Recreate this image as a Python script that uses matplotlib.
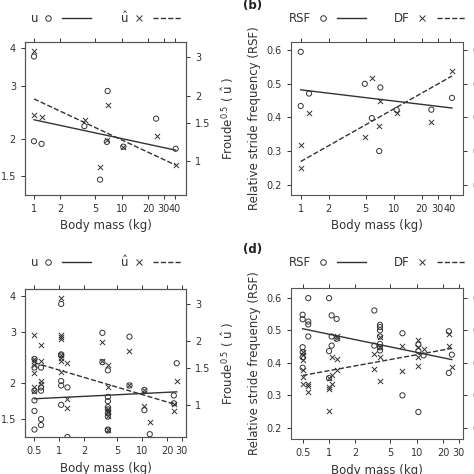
import matplotlib
matplotlib.use("Agg")
import matplotlib.pyplot as plt
import numpy as np
from matplotlib.ticker import FixedLocator, NullLocator, FixedFormatter
from matplotlib.lines import Line2D

# Panel a
a_u_x = [1, 1, 1.22, 3.75, 5.66, 6.75, 6.9, 10.4, 24.6, 41]
a_u_y = [3.75, 1.96, 1.92, 2.2, 1.46, 1.95, 2.88, 1.88, 2.33, 1.85]
a_h_x = [1, 1, 1.22, 3.8, 5.66, 6.9, 6.75, 10.4, 25, 41]
a_h_y = [3.22, 1.63, 1.59, 1.54, 0.935, 1.81, 1.25, 1.16, 1.30, 0.96]
a_fit_u = (2.31, -0.0627)    # a*M^b
a_fit_h = (1.93, -0.189)

# Panel b
b_rsf_x = [1, 1, 1.23, 4.9, 5.83, 7.2, 7.0, 10.8, 25.5, 42.5]
b_rsf_y = [0.595, 0.434, 0.471, 0.50, 0.398, 0.489, 0.30, 0.422, 0.423, 0.458]
b_df_x = [1, 1, 1.23, 4.9, 5.83, 7.2, 7.0, 10.8, 25.5, 42.5]
b_df_y = [0.317, 0.250, 0.412, 0.342, 0.516, 0.450, 0.375, 0.414, 0.385, 0.539]
b_fit_rsf = (0.482, -0.0332)  # a + b*log10(M)
b_fit_df = (0.269, 0.156)

# Panel c
c_u_x = [0.5]*6 + [0.6]*5 + [1.05]*6 + [1.25]*2 + [3.3]*2 + [3.84]*9 + [7.0]*2 + [10.6]*2 + [12.3] + [24]*2 + [26]
c_u_y = [2.42, 2.26, 1.88, 1.74, 1.60, 1.38,
         2.26, 1.93, 1.88, 1.50, 1.43,
         3.75, 2.51, 2.49, 1.96, 2.03, 1.68,
         1.93, 1.30,
         2.98, 2.36,
         2.21, 1.79, 1.73, 1.62, 1.57, 1.53, 1.38, 1.37, 1.65,
         2.89, 1.96,
         1.89, 1.61,
         1.33,
         1.81, 1.70,
         2.34]
c_h_x = [0.5]*7 + [0.6]*4 + [1.05]*8 + [1.25]*3 + [3.3]*2 + [3.84]*7 + [7.0]*2 + [10.6]*2 + [12.3] + [24]*2 + [26]
c_h_y = [2.13, 1.54, 1.42, 1.22, 1.16, 1.65, 1.62,
         1.93, 1.61, 1.29, 1.25,
         3.20, 2.15, 2.10, 2.05, 1.73, 1.62, 1.43, 1.67,
         1.58, 1.07, 0.97,
         1.98, 1.61,
         1.54, 1.21, 0.96, 0.94, 0.92, 0.89, 0.76,
         1.80, 1.24,
         1.17, 0.99,
         0.83,
         1.01, 0.94,
         1.30]
c_fit_u = (1.78, 0.014)
c_fit_h = (1.46, -0.116)

# Panel d
d_rsf_x = [0.5]*6 + [0.58]*4 + [1.0]*3 + [1.07]*3 + [1.22]*2 + [3.28]*2 + [3.8]*7 + [6.85]*2 + [10.4]*3 + [11.9] + [23.1]*2 + [25]
d_rsf_y = [0.548, 0.534, 0.448, 0.433, 0.417, 0.385,
           0.599, 0.527, 0.518, 0.481,
           0.599, 0.436, 0.353,
           0.546, 0.481, 0.453,
           0.535, 0.474,
           0.561, 0.453,
           0.517, 0.510, 0.500, 0.481, 0.458, 0.448, 0.438,
           0.491, 0.300,
           0.456, 0.436, 0.249,
           0.423,
           0.497, 0.369,
           0.425]
d_df_x = [0.5]*6 + [0.58]*3 + [1.0]*4 + [1.07]*3 + [1.22]*4 + [3.28]*2 + [3.8]*4 + [6.85]*2 + [10.4]*4 + [11.9] + [23.1]*2 + [25]
d_df_y = [0.433, 0.425, 0.409, 0.379, 0.356, 0.335,
          0.335, 0.330, 0.310,
          0.354, 0.325, 0.318, 0.251,
          0.417, 0.363, 0.335,
          0.481, 0.476, 0.412, 0.378,
          0.428, 0.381,
          0.479, 0.448, 0.419, 0.343,
          0.451, 0.376,
          0.471, 0.448, 0.417, 0.389,
          0.444,
          0.489, 0.453,
          0.387]
d_fit_rsf = (0.488, -0.0559)
d_fit_df = (0.376, 0.049)

FS = 7
C = "#333333"
fig = plt.figure(figsize=(4.74, 4.74), dpi=100)
W = 474.0

def setx(ax, xlim, xt, xtl):
    ax.set_xlim(*xlim)
    ax.xaxis.set_major_locator(FixedLocator(xt))
    ax.xaxis.set_major_formatter(FixedFormatter(xtl))
    ax.xaxis.set_minor_locator(NullLocator())

def setup(ax, xlim, xt, xtl):
    ax.set_xscale("log")
    setx(ax, xlim, xt, xtl)
    ax.tick_params(axis="both", labelsize=FS, colors=C, length=3, width=0.7, direction="out")
    ax.tick_params(axis="x", top=True)
    for s in ax.spines.values():
        s.set_color("#555555"); s.set_linewidth(0.8)
    ax.set_xlabel("Body mass (kg)", fontsize=8.5, color=C, labelpad=4)

def logy(ax, lim, t):
    ax.set_yscale("log")
    ax.set_ylim(*lim)
    ax.yaxis.set_major_locator(FixedLocator(t))
    ax.yaxis.set_major_formatter(FixedFormatter([f"{v:g}" for v in t]))
    ax.yaxis.set_minor_locator(NullLocator())

mk = dict(s=14, linewidths=0.7)

def legend(y, lab1, lab2, x0):
    yf = 1 - y / W
    if x0 < 200:
        pos = [(31, 48, 62, 91), (120, 139, 153, 181)]
    else:
        pos = [(289, 323, 337, 366), (394, 422, 437, 465)]
    for (tx, mx, l0, l1), lab, m, ls in zip(pos, [lab1, lab2], ["o", "x"], ["-", "--"]):
        fig.text(tx / W, yf, lab, fontsize=8.5, color=C, ha="left", va="center")
        fig.add_artist(Line2D([mx / W], [yf], marker=m, mfc="none", mec=C, ms=4, mew=0.7, ls="none"))
        fig.add_artist(Line2D([l0 / W, l1 / W], [yf, yf], color=C, lw=1, ls=ls))

def uvlog_panel(rect, xlim, xt, xtl, ylimL, ylimR, ux, uy, hx, hy, fu, fh, ly):
    ax = fig.add_axes(rect)
    setup(ax, xlim, xt, xtl)
    logy(ax, ylimL, [1.5, 2, 3, 4])
    ax2 = ax.twinx()
    logy(ax2, ylimR, [1, 1.5, 2, 3])
    ax2.tick_params(axis="y", labelsize=FS, colors=C, length=3, width=0.7)
    for s in ax2.spines.values():
        s.set_color("#555555"); s.set_linewidth(0.8)
    ax.scatter(ux, uy, marker="o", facecolors="none", edgecolors=C, **mk)
    ax2.scatter(hx, hy, marker="x", color=C, **mk)
    xs = np.array([min(ux), max(ux)])
    ax.plot(xs, fu[0] * xs ** fu[1], color=C, lw=1)
    ax2.plot(xs, fh[0] * xs ** fh[1], color=C, lw=1, ls="--")
    setx(ax, xlim, xt, xtl)
    ax2.set_ylabel(r"Froude$^{0.5}$ ( $\hat{\mathrm{u}}$ )", fontsize=8.5, color=C, labelpad=6)
    legend(ly, "u", r"$\hat{\mathrm{u}}$", 0)

def rsf_panel(rect, xlim, xt, xtl, ylim, rx, ry, dx, dy, fr, fd, ly, letter, lety):
    ax = fig.add_axes(rect)
    setup(ax, xlim, xt, xtl)
    ax.set_ylim(*ylim)
    ax.set_yticks([0.2, 0.3, 0.4, 0.5, 0.6])
    ax.tick_params(axis="y", right=True, labelright=True)
    ax.scatter(rx, ry, marker="o", facecolors="none", edgecolors=C, **mk)
    ax.scatter(dx, dy, marker="x", color=C, **mk)
    xs = np.array([min(rx), max(rx)])
    ax.plot(xs, fr[0] + fr[1] * np.log10(xs), color=C, lw=1)
    ax.plot(xs, fd[0] + fd[1] * np.log10(xs), color=C, lw=1, ls="--")
    setx(ax, xlim, xt, xtl)
    ax.set_ylabel("Relative stride frequency (RSF)", fontsize=8.5, color=C, labelpad=4)
    fig.text(243 / W, 1 - lety / W, letter, fontsize=8.5, fontweight="bold", color="#222222", va="center")
    legend(ly, "RSF", "DF", 300)

uvlog_panel([0.0527, 0.589, 0.340, 0.323], (0.79, 54), [1, 2, 5, 10, 20, 30, 40],
            ["1", "2", "5", "10", "20", "30", "40"], (1.30, 4.2), (0.698, 3.54),
            a_u_x, a_u_y, a_h_x, a_h_y, a_fit_u, a_fit_h, 18)
rsf_panel([0.614, 0.589, 0.363, 0.323], (0.787, 56), [1, 2, 5, 10, 20, 30, 40],
          ["1", "2", "5", "10", "20", "30", "40"], (0.170, 0.625),
          b_rsf_x, b_rsf_y, b_df_x, b_df_y, b_fit_rsf, b_fit_df, 18, "(b)", 6)
uvlog_panel([0.0527, 0.078, 0.340, 0.312], (0.384, 33.8), [0.5, 1, 2, 5, 10, 20, 30],
            ["0.5", "1", "2", "5", "10", "20", "30"], (1.30, 4.22), (0.704, 3.53),
            c_u_x, c_u_y, c_h_x, c_h_y, c_fit_u, c_fit_h, 262)
rsf_panel([0.614, 0.074, 0.363, 0.319], (0.369, 33.6), [0.5, 1, 2, 5, 10, 20, 30],
          ["0.5", "1", "2", "5", "10", "20", "30"], (0.166, 0.631),
          d_rsf_x, d_rsf_y, d_df_x, d_df_y, d_fit_rsf, d_fit_df, 262, "(d)", 250)

fig.savefig("out.png", dpi=100)
